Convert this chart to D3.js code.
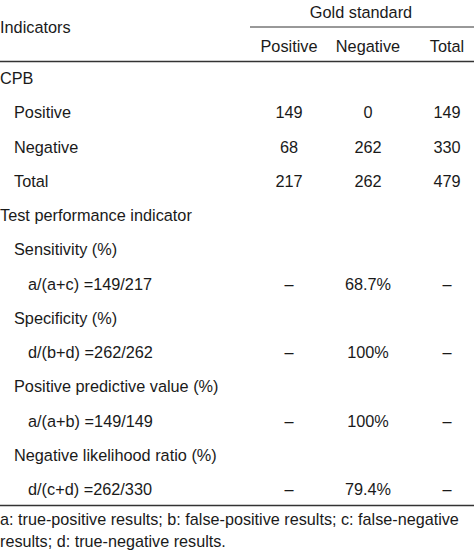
<!DOCTYPE html>
<html>
<head>
<meta charset="utf-8">
<script src="https://cdn.jsdelivr.net/npm/d3@7"></script>
<style>
  body { margin: 0; background: #fff; }
  text { font-family: "Liberation Sans", Arial, sans-serif; fill: #1a1a1a; }
</style>
</head>
<body>
<svg id="chart" width="474" height="551"></svg>
<script>
// table content
var columns = ["Positive", "Negative", "Total"];
var rowLabels = ["CPB", "Positive", "Negative", "Total", "Test performance indicator",
  "Sensitivity (%)", "a/(a+c) =149/217", "Specificity (%)", "d/(b+d) =262/262",
  "Positive predictive value (%)", "a/(a+b) =149/149", "Negative likelihood ratio (%)", "d/(c+d) =262/330"];
var rowIndent = [0, 1, 1, 1, 0, 1, 2, 1, 2, 1, 2, 1, 2];
var positiveCol = ["", "149", "68", "217", "", "", "–", "", "–", "", "–", "", "–"];
var negativeCol = ["", "0", "262", "262", "", "", "68.7%", "", "100%", "", "100%", "", "79.4%"];
var totalCol = ["", "149", "330", "479", "", "", "–", "", "–", "", "–", "", "–"];
var footnotes = ["a: true-positive results; b: false-positive results; c: false-negative",
  "results; d: true-negative results."];

var svg = d3.select("#chart");
var fs = 16.3;

var colX = d3.scaleOrdinal().domain(columns).range([289, 368, 447]);
var rowY = d3.scaleLinear().domain([0, rowLabels.length - 1]).range([84, 495]);

// header
svg.append("text").attr("x", 361).attr("y", 18).attr("text-anchor", "middle")
  .attr("font-size", fs).text("Gold standard");
svg.append("text").attr("x", 0).attr("y", 33).attr("font-size", fs).text("Indicators");
svg.selectAll(".colhead").data(columns).enter().append("text")
  .attr("x", d => colX(d)).attr("y", 52).attr("text-anchor", "middle")
  .attr("font-size", fs).text(d => d);

// rules
svg.append("line").attr("x1", 250).attr("x2", 474).attr("y1", 27).attr("y2", 27)
  .attr("stroke", "#333").attr("stroke-width", 1);
svg.append("line").attr("x1", 0).attr("x2", 474).attr("y1", 61.5).attr("y2", 61.5)
  .attr("stroke", "#333").attr("stroke-width", 1.3);
svg.append("line").attr("x1", 0).attr("x2", 474).attr("y1", 505.5).attr("y2", 505.5)
  .attr("stroke", "#333").attr("stroke-width", 1.3);

// rows
rowLabels.forEach(function(label, i) {
  var y = rowY(i);
  svg.append("text").attr("x", rowIndent[i] * 14).attr("y", y)
    .attr("font-size", fs).text(label);
  [positiveCol, negativeCol, totalCol].forEach(function(col, j) {
    if (col[i]) {
      svg.append("text").attr("x", colX(columns[j])).attr("y", y)
        .attr("text-anchor", "middle").attr("font-size", fs).text(col[i]);
    }
  });
});

// footnotes
footnotes.forEach(function(f, i) {
  svg.append("text").attr("x", 0).attr("y", 525 + i * 22)
    .attr("font-size", 16.2).text(f);
});
</script>
</body>
</html>
